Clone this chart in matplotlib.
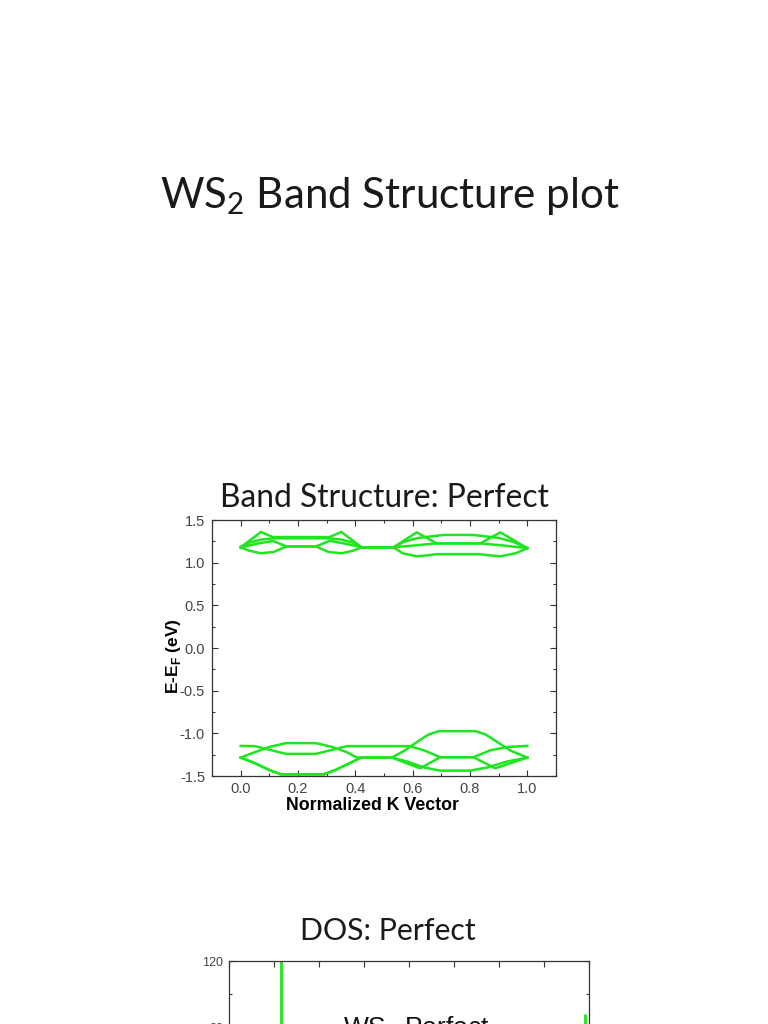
import matplotlib
matplotlib.use('Agg')
import matplotlib.pyplot as plt
from matplotlib.ticker import MultipleLocator

plt.rcParams['mathtext.fontset'] = 'custom'
plt.rcParams['mathtext.rm'] = 'Lato'
plt.rcParams['mathtext.bf'] = 'Liberation Sans:bold'
plt.rcParams['mathtext.sf'] = 'Liberation Sans'

# ---------------- data ----------------
# conduction bands (normalized k, E-EF in eV)
cb1_k = [0.0, 0.071, 0.112, 0.31, 0.351, 0.422, 0.533, 0.614, 0.684, 0.836, 0.906, 1.0]
cb1_e = [1.18, 1.36, 1.30, 1.30, 1.36, 1.18, 1.18, 1.355, 1.226, 1.226, 1.355, 1.17]
cb2_k = [0.0, 0.03, 0.07, 0.112, 0.31, 0.352, 0.392, 0.422, 0.533, 0.57, 0.62, 0.707, 0.812, 0.90, 0.95, 1.0]
cb2_e = [1.18, 1.235, 1.27, 1.285, 1.285, 1.27, 1.235, 1.18, 1.18, 1.245, 1.29, 1.325, 1.325, 1.29, 1.245, 1.17]
cb3_k = [0.0, 0.03, 0.07, 0.115, 0.16, 0.262, 0.307, 0.352, 0.392, 0.422, 0.533, 0.565, 0.614, 0.65, 0.684, 0.832, 0.87, 0.906, 0.96, 1.0]
cb3_e = [1.18, 1.14, 1.11, 1.125, 1.19, 1.19, 1.125, 1.11, 1.14, 1.18, 1.18, 1.11, 1.075, 1.085, 1.10, 1.10, 1.085, 1.075, 1.11, 1.17]
cb4_k = [0.0, 0.06, 0.112, 0.16, 0.262, 0.31, 0.362, 0.422, 0.533, 0.60, 0.684, 0.836, 0.92, 1.0]
cb4_e = [1.18, 1.225, 1.255, 1.19, 1.19, 1.255, 1.225, 1.18, 1.18, 1.20, 1.226, 1.226, 1.20, 1.17]

# valence bands
vb1_k = [0.0, 0.05, 0.157, 0.263, 0.37, 0.59, 0.64, 0.696, 0.812, 0.87, 0.93, 1.0]
vb1_e = [-1.147, -1.15, -1.24, -1.24, -1.15, -1.15, -1.20, -1.28, -1.28, -1.20, -1.16, -1.147]
vb2_k = [0.0, 0.05, 0.10, 0.157, 0.263, 0.32, 0.37, 0.405, 0.527, 0.573, 0.62, 0.655, 0.69, 0.82, 0.855, 0.89, 0.94, 1.0]
vb2_e = [-1.284, -1.22, -1.16, -1.115, -1.115, -1.16, -1.22, -1.284, -1.284, -1.20, -1.09, -1.015, -0.975, -0.975, -1.015, -1.09, -1.20, -1.284]
vb3_k = [0.0, 0.05, 0.10, 0.14, 0.29, 0.33, 0.38, 0.42, 0.527, 0.626, 0.696, 0.812, 0.888, 1.0]
vb3_e = [-1.284, -1.35, -1.43, -1.48, -1.48, -1.43, -1.35, -1.284, -1.284, -1.41, -1.28, -1.28, -1.41, -1.284]
vb4_k = [0.0, 0.05, 0.10, 0.14, 0.29, 0.33, 0.38, 0.42, 0.527, 0.58, 0.64, 0.696, 0.80, 0.86, 0.93, 1.0]
vb4_e = [-1.284, -1.35, -1.43, -1.48, -1.48, -1.43, -1.35, -1.284, -1.284, -1.33, -1.40, -1.437, -1.437, -1.40, -1.33, -1.284]

bands = [(cb1_k, cb1_e), (cb2_k, cb2_e), (cb3_k, cb3_e), (cb4_k, cb4_e),
         (vb1_k, vb1_e), (vb2_k, vb2_e), (vb3_k, vb3_e), (vb4_k, vb4_e)]

# DOS (only the visible spikes of the cut-off panel)
dos_e = [-2.85, 3.9]
dos_n = [140, 88]

band_xticks = [0.0, 0.2, 0.4, 0.6, 0.8, 1.0]
band_yticks = [-1.5, -1.0, -0.5, 0.0, 0.5, 1.0, 1.5]

GREEN = '#1ee61e'
TICKC = '#444444'
W, H = 768, 1024

fig = plt.figure(figsize=(W / 100, H / 100), dpi=100)
fig.patch.set_facecolor('white')


def fit_text(cx, base_y, s, width_px, **kw):
    t = fig.text(cx / W, 1 - base_y / H, s, ha='center', va='baseline', **kw)
    fig.canvas.draw()
    r = fig.canvas.get_renderer()
    w = t.get_window_extent(r).width
    t.set_fontsize(t.get_fontsize() * width_px / w)
    return t


title_kw = dict(family='Lato', weight='normal', color='#1a1a1a', fontsize=30)
fit_text(390, 208, r'WS$_\mathrm{2}$ Band Structure plot', 460, **title_kw)
fit_text(384, 507, 'Band Structure: Perfect', 328, **title_kw)
fit_text(388, 940, 'DOS: Perfect', 176, **title_kw)

# ---------------- band structure ----------------
ax = fig.add_axes([212 / W, 1 - 776 / H, 344 / W, 256 / H])
for k, e in bands:
    ax.plot(k, e, color=GREEN, lw=1.8, solid_joinstyle='round')
ax.set_xlim(-0.1, 1.1)
ax.set_ylim(-1.5, 1.5)
ax.set_xticks(band_xticks)
ax.set_yticks(band_yticks)
ax.set_xticklabels([f'{v:.1f}' for v in band_xticks])
ax.set_yticklabels([f'{v:.1f}' for v in band_yticks])
ax.xaxis.set_minor_locator(MultipleLocator(0.1))
ax.yaxis.set_minor_locator(MultipleLocator(0.25))
ax.tick_params(which='both', direction='in', top=True, right=True, color='#333333')
ax.tick_params(which='major', length=4, width=0.8, labelsize=10.5, labelcolor=TICKC)
ax.tick_params(axis='x', which='major', pad=4)
ax.tick_params(axis='y', which='major', pad=5)
ax.tick_params(which='minor', length=2.5, width=0.8)
for lab in ax.get_xticklabels() + ax.get_yticklabels():
    lab.set_family('Liberation Sans')
for sp in ax.spines.values():
    sp.set_color('#333333')
    sp.set_linewidth(0.9)
ax.set_xlabel('Normalized K Vector', family='Liberation Sans', weight='bold', fontsize=12.8)
ax.xaxis.set_label_coords((372 - 212) / 344, -(797 - 776) / 256)
ax.xaxis.label.set_verticalalignment('top')
ax.set_ylabel(r'E-E$_\mathbf{F}$ (eV)', family='Liberation Sans', weight='bold', fontsize=12.5)
ax.yaxis.set_label_coords((183 - 212) / 344, 1 - (656 - 520) / 256)

# ---------------- DOS (cut off by the page) ----------------
ax2 = fig.add_axes([229 / W, 1 - 1159 / H, 360 / W, 198 / H])
ax2.vlines(dos_e, 0, dos_n, color=GREEN, lw=2)
ax2.set_xlim(-4, 4)
ax2.set_ylim(0, 120)
ax2.xaxis.set_major_locator(MultipleLocator(1))
ax2.yaxis.set_major_locator(MultipleLocator(40))
ax2.yaxis.set_minor_locator(MultipleLocator(20))
ax2.tick_params(which='both', direction='in', top=True, right=True, color='#333333')
ax2.tick_params(which='major', length=4, width=0.8, labelsize=9, labelcolor=TICKC, pad=4)
ax2.tick_params(which='minor', length=2.5, width=0.8)
ax2.tick_params(axis='x', labelbottom=False)
for lab in ax2.get_yticklabels():
    lab.set_family('Liberation Sans')
for sp in ax2.spines.values():
    sp.set_color('#333333')
    sp.set_linewidth(0.9)
ax2.text(0.52, 0.73, r'WS$_\mathsf{2}$ Perfect', transform=ax2.transAxes, ha='center', va='top',
         family='Liberation Sans', fontsize=19, color='#111111')

fig.savefig('out.png', dpi=100, facecolor='white')
